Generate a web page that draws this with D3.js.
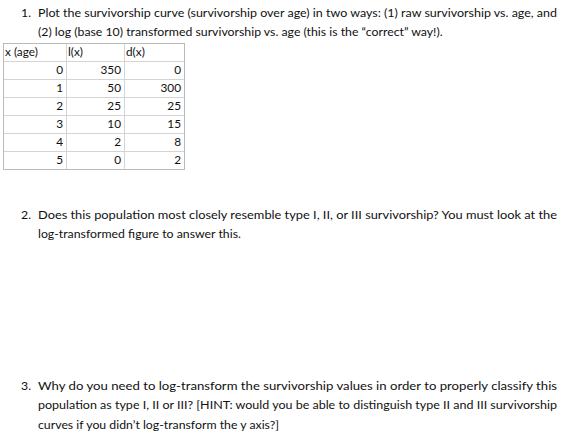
<!DOCTYPE html>
<html><head><meta charset="utf-8">
<script src="https://cdn.jsdelivr.net/npm/d3@7"></script>
<style>body{margin:0;background:#fff}</style></head>
<body><script>
const headers=["x (age)","l(x)","d(x)"];
const ages=[0,1,2,3,4,5];
const lx=[350,50,25,10,2,0];
const dx=[0,300,25,15,8,2];
const q1=["Plot the survivorship curve (survivorship over age) in two ways: (1) raw survivorship vs. age, and","(2) log (base 10) transformed survivorship vs. age (this is the \u201ccorrect\u201d way!)."];
const q2=["Does this population most closely resemble type I, II, or III survivorship? You must look at the","log-transformed figure to answer this."];
const q3=["Why do you need to log-transform the survivorship values in order to properly classify this","population as type I, II or III? [HINT: would you be able to distinguish type II and III survivorship","curves if you didn\u2019t log-transform the y axis?]"];
const W=565,H=442,font="Lato, 'Open Sans', sans-serif";
const svg=d3.select("body").append("svg").attr("width",W).attr("height",H);
function para(num,lines,y0){
  svg.append("text").attr("x",21).attr("y",y0).text(num+".").attr("font-family",font).attr("font-size",12.3).attr("fill","#111");
  lines.forEach((l,i)=>svg.append("text").attr("x",38).attr("y",y0+i*19.3).text(l).attr("font-family",font).attr("font-size",12.3).attr("fill","#111")
    .attr("textLength",i<lines.length-1?519:null).attr("lengthAdjust","spacingAndGlyphs"));
}
para(1,q1,17);para(2,q2,219);para(3,q3,390);
const cols=[3,66,124,184];
const rows=d3.scaleBand().domain(d3.range(7)).range([43,169]);
const g=svg.append("g");
const data=[headers].concat(ages.map((a,i)=>[a,lx[i],dx[i]]));
data.forEach((r,ri)=>{
  r.forEach((v,ci)=>{
    g.append("rect").attr("x",cols[ci]+0.5).attr("y",rows(ri)+0.5).attr("width",cols[ci+1]-cols[ci]).attr("height",rows.bandwidth()).attr("fill","none").attr("stroke","#d4d4d4");
    const t=g.append("text").attr("y",rows(ri)+rows.bandwidth()/2+4).text(v).attr("font-family",font).attr("font-size",11.8).attr("fill","#111");
    if(ri===0) t.attr("x",cols[ci]+2); else t.attr("x",cols[ci+1]-3).attr("text-anchor","end");
  });
});
g.append("rect").attr("x",3.5).attr("y",43.5).attr("width",181).attr("height",126).attr("fill","none").attr("stroke","#bbb");
</script></body></html>
